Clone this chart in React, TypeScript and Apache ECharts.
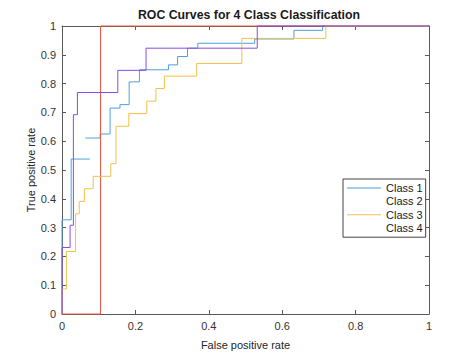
import React, { useEffect, useRef } from "react";
import * as echarts from "echarts";

const classNames = ["Class 1", "Class 2", "Class 3", "Class 4"];
const classColors = ["#4f9fdc", "#e8553f", "#efc24a", "#8a4be0"];

// Class 1 (null marks a break in the drawn line)
const class1Fpr = [0, 0, 0.025, 0.025, 0.076, null, 0.064, 0.104, 0.104, 0.131, 0.131, 0.158, 0.158, 0.183, 0.183, 0.211, 0.211, 0.29, 0.29, 0.315, 0.315, 0.342, 0.342, 0.37, 0.37, 0.525, 0.525, 0.632, 0.632, 0.71, 0.71, 1];
const class1Tpr = [0, 0.327, 0.327, 0.538, 0.538, null, 0.611, 0.611, 0.625, 0.625, 0.715, 0.715, 0.727, 0.727, 0.806, 0.806, 0.848, 0.848, 0.865, 0.865, 0.894, 0.894, 0.923, 0.923, 0.94, 0.94, 0.955, 0.955, 0.985, 0.985, 1, 1];

// Class 2
const class2Fpr = [0, 0.105, 0.105, 1];
const class2Tpr = [0, 0, 1, 1];

// Class 3
const class3Fpr = [0, 0, 0.012, 0.012, 0.037, 0.037, 0.047, 0.047, 0.061, 0.061, 0.085, 0.085, 0.133, 0.133, 0.147, 0.147, 0.182, 0.182, 0.231, 0.231, 0.256, 0.256, 0.279, 0.279, 0.367, 0.367, 0.49, 0.49, 0.719, 0.719, 1];
const class3Tpr = [0, 0.087, 0.087, 0.217, 0.217, 0.348, 0.348, 0.391, 0.391, 0.435, 0.435, 0.478, 0.478, 0.522, 0.522, 0.652, 0.652, 0.696, 0.696, 0.739, 0.739, 0.783, 0.783, 0.826, 0.826, 0.87, 0.87, 0.957, 0.957, 1, 1];

// Class 4
const class4Fpr = [0, 0, 0.022, 0.022, 0.031, 0.031, 0.042, 0.042, 0.152, 0.152, 0.229, 0.229, 0.532, 0.532, 1];
const class4Tpr = [0, 0.231, 0.231, 0.308, 0.308, 0.692, 0.692, 0.769, 0.769, 0.846, 0.846, 0.923, 0.923, 1, 1];

const xTickValues = [0, 0.2, 0.4, 0.6, 0.8, 1];
const xTickLabels = ["0", "0.2", "0.4", "0.6", "0.8", "1"];
const yTickValues = [0, 0.1, 0.2, 0.3, 0.4, 0.5, 0.6, 0.7, 0.8, 0.9, 1];
const yTickLabels = ["0", "0.1", "0.2", "0.3", "0.4", "0.5", "0.6", "0.7", "0.8", "0.9", "1"];

const legendHidden = [false, true, false, true];

const FONT = "'Liberation Sans', Arial, Helvetica, sans-serif";

function zip(xs: (number | null)[], ys: (number | null)[]) {
  return xs.map((x, i) => (x === null || ys[i] === null ? ["-", "-"] : [x, ys[i]]));
}

function labelFor(values: number[], labels: string[]) {
  return (v: number) => {
    const idx = values.findIndex((t) => Math.abs(t - v) < 1e-6);
    return idx >= 0 ? labels[idx] : "";
  };
}

const AXIS_COLOR = "#5a5a5a";

export default function App() {
  const ref = useRef<HTMLDivElement>(null);
  useEffect(() => {
    if (!ref.current) return;
    const chart = echarts.init(ref.current, null, { renderer: "svg" });
    const dataSets = [
      zip(class1Fpr, class1Tpr),
      zip(class2Fpr, class2Tpr),
      zip(class3Fpr, class3Tpr),
      zip(class4Fpr, class4Tpr),
    ];
    const baseAxis = {
      min: 0,
      max: 1,
      axisLine: { show: true, onZero: false, lineStyle: { color: AXIS_COLOR, width: 1 } },
      axisTick: { show: true, inside: true, length: 4, lineStyle: { color: AXIS_COLOR } },
      splitLine: { show: false },
    };
    chart.setOption({
      animation: false,
      backgroundColor: "#ffffff",
      title: {
        text: "ROC Curves for 4 Class Classification",
        left: 244,
        textAlign: "center",
        top: 4,
        padding: 5,
        textStyle: { fontFamily: FONT, fontSize: 12.3, fontWeight: "bold", color: "#1a1a1a" },
      },
      grid: { left: 62, right: 45, top: 26, bottom: 39 },
      legend: {
        orient: "vertical",
        left: 343,
        top: 179,
        padding: [3, 3, 3, 4],
        icon: "rect",
        itemWidth: 34,
        itemHeight: 1,
        itemGap: 1.4,
        backgroundColor: "#ffffff",
        borderColor: "#444",
        borderWidth: 1,
        borderRadius: 0,
        textStyle: { fontFamily: FONT, fontSize: 11, color: "#1a1a1a", lineHeight: 12 },
        data: classNames.map((name, i) =>
          legendHidden[i]
            ? { name, itemStyle: { color: "rgba(255,255,255,0)", opacity: 0 } }
            : { name }
        ),
      },
      xAxis: [
        {
          ...baseAxis,
          type: "value",
          position: "bottom",
          interval: 0.2,
          name: "False positive rate",
          nameLocation: "middle",
          nameGap: 25,
          nameMoveOverlap: false,
          nameTextStyle: { fontFamily: FONT, fontSize: 11, color: "#262626" },
          axisLabel: {
            margin: 6,
            fontFamily: FONT,
            fontSize: 11,
            color: "#333",
            formatter: labelFor(xTickValues, xTickLabels),
          },
        },
        {
          ...baseAxis,
          type: "value",
          position: "top",
          interval: 0.2,
          axisLabel: { show: false },
        },
      ],
      yAxis: [
        {
          ...baseAxis,
          type: "value",
          position: "left",
          interval: 0.1,
          name: "True positive rate",
          nameLocation: "middle",
          nameGap: 26,
          nameMoveOverlap: false,
          nameTextStyle: { fontFamily: FONT, fontSize: 11, color: "#262626" },
          axisLabel: {
            margin: 6,
            fontFamily: FONT,
            fontSize: 11,
            color: "#333",
            formatter: labelFor(yTickValues, yTickLabels),
          },
        },
        {
          ...baseAxis,
          type: "value",
          position: "right",
          interval: 0.1,
          axisLabel: { show: false },
        },
      ],
      series: classNames.map((name, i) => ({
        name,
        type: "line",
        data: dataSets[i],
        showSymbol: false,
        symbol: "none",
        connectNulls: false,
        color: classColors[i],
        itemStyle: { color: classColors[i] },
        lineStyle: { color: classColors[i], width: 1 },
        clip: false,
      })),
    });
    return () => chart.dispose();
  }, []);
  return (
    <div
      ref={ref}
      style={{ position: "fixed", left: 0, top: 0, width: 474, height: 355 }}
    />
  );
}
